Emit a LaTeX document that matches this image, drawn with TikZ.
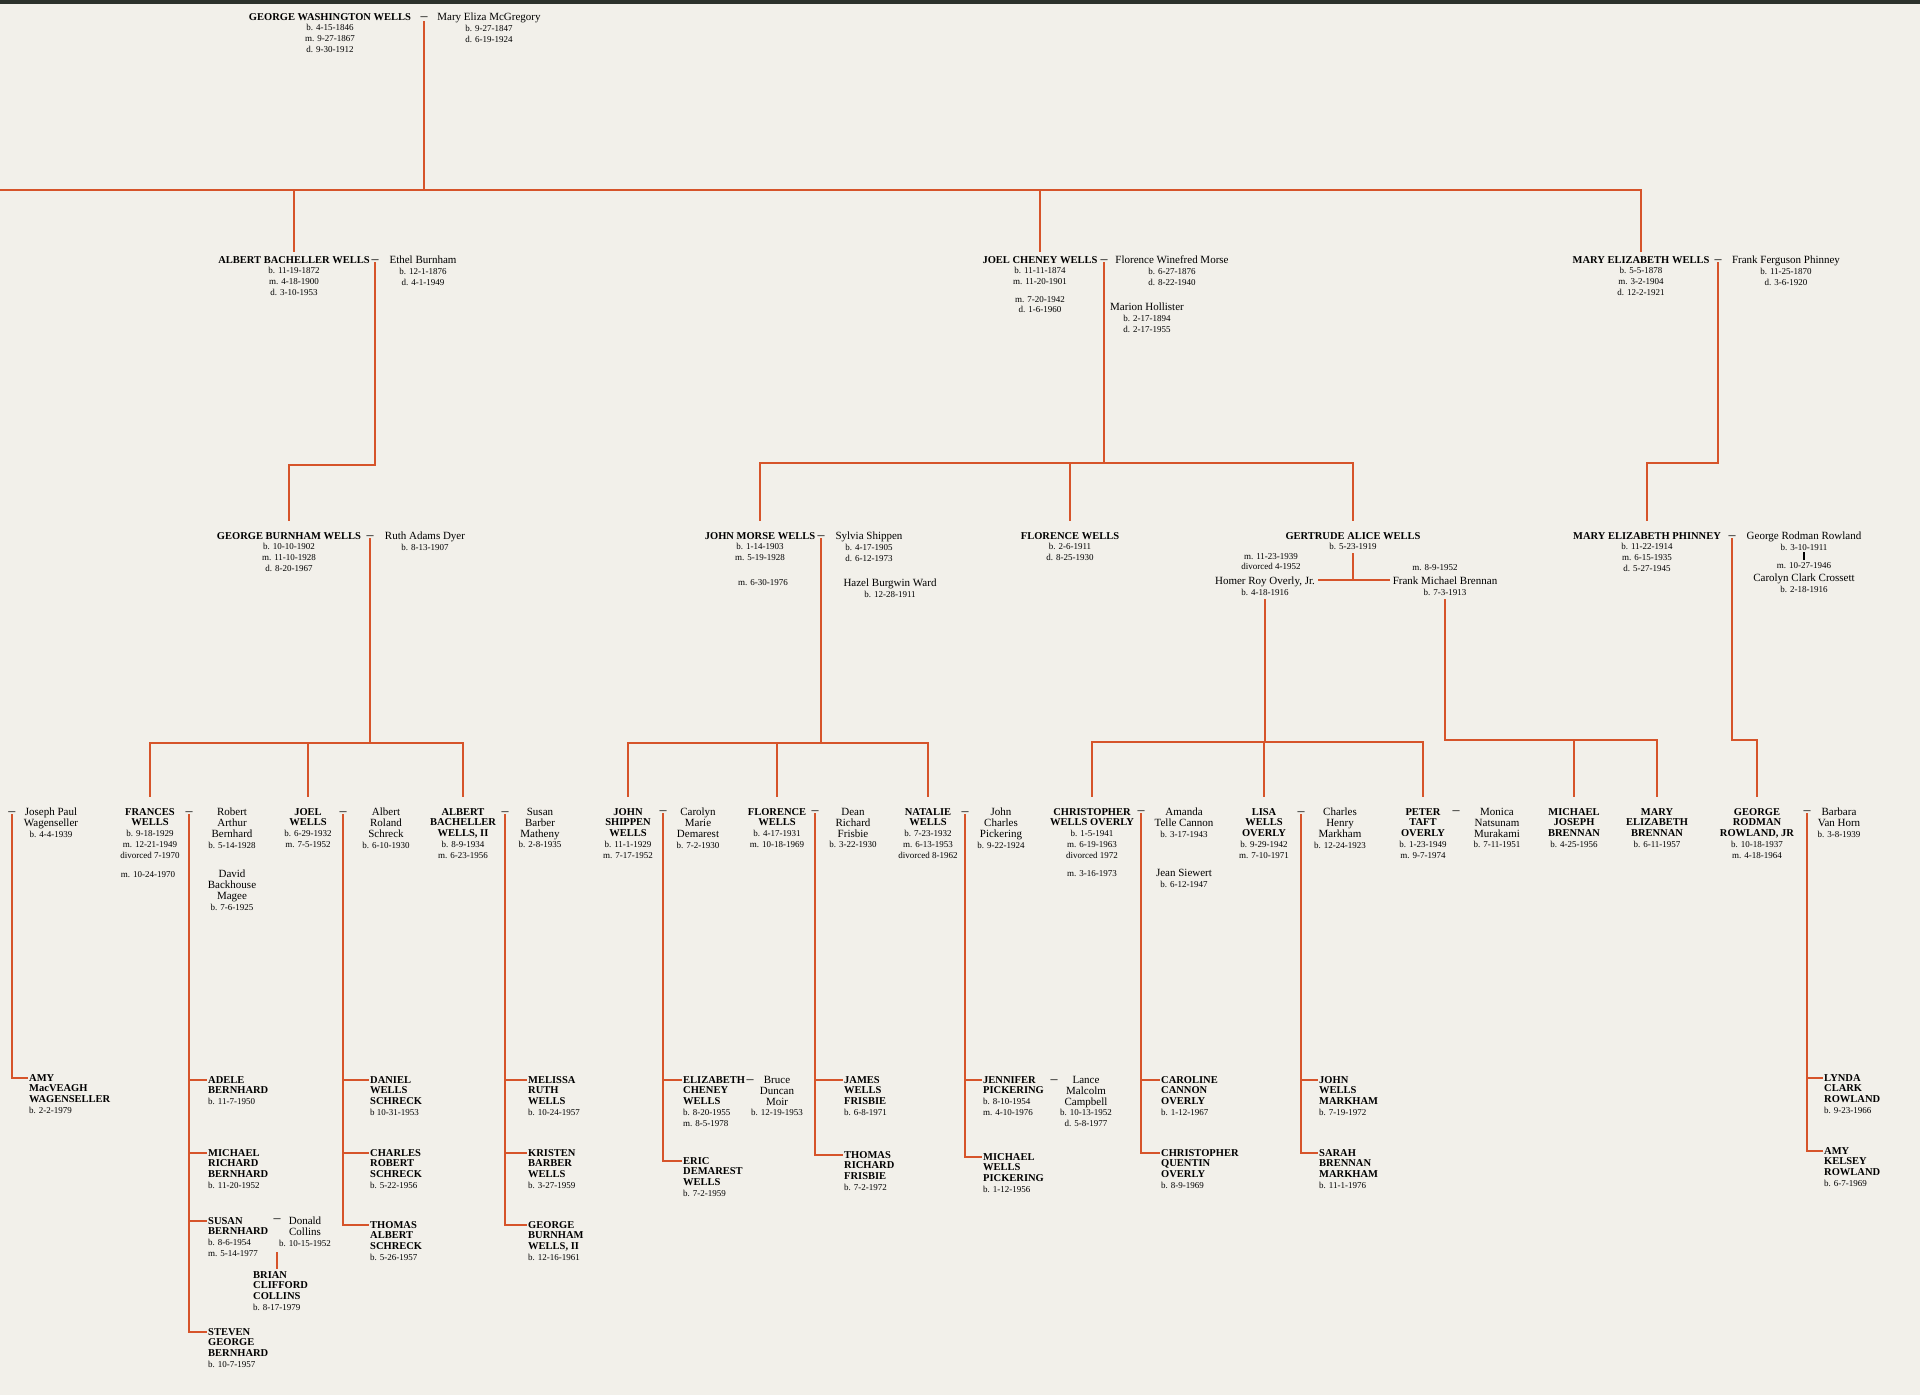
\documentclass[tikz,border=0pt]{standalone}
\usepackage{fontspec}
\setmainfont{Liberation Serif}
\usepackage{xcolor}
\usepackage{tikz}

\definecolor{paper}{RGB}{242,240,234}
\definecolor{treered}{RGB}{214,84,42}
\definecolor{scanedge}{RGB}{44,50,44}

\newcommand{\datefont}{\fontsize{9}{10.8}\selectfont}
\newcommand{\bname}[1]{{\fontsize{10.5}{10.8}\selectfont\bfseries #1}}
\newcommand{\rname}[1]{{\fontsize{11}{10.8}\selectfont #1}}

\begin{document}
\begin{tikzpicture}[
  x=1pt, y=-1pt,
  elder/.style={align=center, anchor=north, inner sep=0pt, font=\datefont},
  kid/.style={align=left, anchor=north west, inner sep=0pt, font=\datefont},
  joiner/.style={inner sep=0pt, anchor=base, font=\fontsize{14}{14}\selectfont},
  link/.style={draw=treered, line width=1.9pt, line cap=rect},
  tick/.style={draw=black, line width=1.4pt},
]
\useasboundingbox (0,0) rectangle (1920,1395);
\fill[paper] (0,0) rectangle (1920,1395);
\fill[scanedge] (0,0) rectangle (1920,4);

% first couple
\node[elder] (gww) at (330,13) {\bname{GEORGE WASHINGTON WELLS}\\b. 4-15-1846\\m. 9-27-1867\\d. 9-30-1912};
\node[joiner] (d-gww) at (424,20) {\textendash};
\node[elder] (mem) at (489,13) {\rname{Mary Eliza McGregory}\\b. 9-27-1847\\d. 6-19-1924};

% their children
\node[elder] (abw) at (294,256) {\bname{ALBERT BACHELLER WELLS}\\b. 11-19-1872\\m. 4-18-1900\\d. 3-10-1953};
\node[joiner] (d-abw) at (375,263) {\textendash};
\node[elder] (ebu) at (423,256) {\rname{Ethel Burnham}\\b. 12-1-1876\\d. 4-1-1949};
\node[elder] (jcw) at (1040,256) {\bname{JOEL CHENEY WELLS}\\b. 11-11-1874\\m. 11-20-1901};
\node[elder] (jcw-m2) at (1040,296) {m. 7-20-1942\\d. 1-6-1960};
\node[joiner] (d-jcw) at (1104,263) {\textendash};
\node[elder] (fwm) at (1172,256) {\rname{Florence Winefred Morse}\\b. 6-27-1876\\d. 8-22-1940};
\node[elder] (mho) at (1147,303) {\rname{Marion Hollister}\\b. 2-17-1894\\d. 2-17-1955};
\node[elder] (mew) at (1641,256) {\bname{MARY ELIZABETH WELLS}\\b. 5-5-1878\\m. 3-2-1904\\d. 12-2-1921};
\node[joiner] (d-mew) at (1718,263) {\textendash};
\node[elder] (ffp) at (1786,256) {\rname{Frank Ferguson Phinney}\\b. 11-25-1870\\d. 3-6-1920};

% grandchildren
\node[elder] (gbw) at (289,532) {\bname{GEORGE BURNHAM WELLS}\\b. 10-10-1902\\m. 11-10-1928\\d. 8-20-1967};
\node[joiner] (d-gbw) at (370,539) {\textendash};
\node[elder] (rad) at (425,532) {\rname{Ruth Adams Dyer}\\b. 8-13-1907};
\node[elder] (jmw) at (760,532) {\bname{JOHN MORSE WELLS}\\b. 1-14-1903\\m. 5-19-1928};
\node[elder] (jmw-m2) at (763,579) {m. 6-30-1976};
\node[joiner] (d-jmw) at (821,539) {\textendash};
\node[elder] (sys) at (869,532) {\rname{Sylvia Shippen}\\b. 4-17-1905\\d. 6-12-1973};
\node[elder] (hbw) at (890,579) {\rname{Hazel Burgwin Ward}\\b. 12-28-1911};
\node[elder] (flw) at (1070,532) {\bname{FLORENCE WELLS}\\b. 2-6-1911\\d. 8-25-1930};
\node[elder] (gaw) at (1353,532) {\bname{GERTRUDE ALICE WELLS}\\b. 5-23-1919};
\node[elder] (gaw-m1) at (1271,553) {m. 11-23-1939\\divorced 4-1952};
\node[elder] (hro) at (1265,577) {\rname{Homer Roy Overly, Jr.}\\b. 4-18-1916};
\node[elder] (gaw-m2) at (1435,564) {m. 8-9-1952};
\node[elder] (fmb) at (1445,577) {\rname{Frank Michael Brennan}\\b. 7-3-1913};
\node[elder] (mep) at (1647,532) {\bname{MARY ELIZABETH PHINNEY}\\b. 11-22-1914\\m. 6-15-1935\\d. 5-27-1945};
\node[joiner] (d-mep) at (1732,539) {\textendash};
\node[elder] (grr) at (1804,532) {\rname{George Rodman Rowland}\\b. 3-10-1911};
\node[elder] (grr-m2) at (1804,562) {m. 10-27-1946};
\node[elder] (ccc) at (1804,574) {\rname{Carolyn Clark Crossett}\\b. 2-18-1916};

% great-grandchildren
\node[joiner] (d-wag) at (12,815) {\textendash};
\node[elder] (jpw) at (51,808) {\rname{Joseph Paul}\\\rname{Wagenseller}\\b. 4-4-1939};
\node[elder] (frw) at (150,808) {\bname{FRANCES}\\\bname{WELLS}\\b. 9-18-1929\\m. 12-21-1949\\divorced 7-1970};
\node[elder] (frw-m2) at (148,871) {m. 10-24-1970};
\node[joiner] (d-frw) at (189,815) {\textendash};
\node[elder] (rab) at (232,808) {\rname{Robert}\\\rname{Arthur}\\\rname{Bernhard}\\b. 5-14-1928};
\node[elder] (dbm) at (232,870) {\rname{David}\\\rname{Backhouse}\\\rname{Magee}\\b. 7-6-1925};
\node[elder] (jw) at (308,808) {\bname{JOEL}\\\bname{WELLS}\\b. 6-29-1932\\m. 7-5-1952};
\node[joiner] (d-jw) at (343,815) {\textendash};
\node[elder] (ars) at (386,808) {\rname{Albert}\\\rname{Roland}\\\rname{Schreck}\\b. 6-10-1930};
\node[elder] (abw2) at (463,808) {\bname{ALBERT}\\\bname{BACHELLER}\\\bname{WELLS, II}\\b. 8-9-1934\\m. 6-23-1956};
\node[joiner] (d-abw2) at (505,815) {\textendash};
\node[elder] (sbm) at (540,808) {\rname{Susan}\\\rname{Barber}\\\rname{Matheny}\\b. 2-8-1935};
\node[elder] (jsw) at (628,808) {\bname{JOHN}\\\bname{SHIPPEN}\\\bname{WELLS}\\b. 11-1-1929\\m. 7-17-1952};
\node[joiner] (d-jsw) at (663,814) {\textendash};
\node[elder] (cmd) at (698,808) {\rname{Carolyn}\\\rname{Marie}\\\rname{Demarest}\\b. 7-2-1930};
\node[elder] (flw2) at (777,808) {\bname{FLORENCE}\\\bname{WELLS}\\b. 4-17-1931\\m. 10-18-1969};
\node[joiner] (d-flw2) at (815,814) {\textendash};
\node[elder] (drf) at (853,808) {\rname{Dean}\\\rname{Richard}\\\rname{Frisbie}\\b. 3-22-1930};
\node[elder] (naw) at (928,808) {\bname{NATALIE}\\\bname{WELLS}\\b. 7-23-1932\\m. 6-13-1953\\divorced 8-1962};
\node[joiner] (d-naw) at (965,815) {\textendash};
\node[elder] (jcp) at (1001,808) {\rname{John}\\\rname{Charles}\\\rname{Pickering}\\b. 9-22-1924};
\node[elder] (cwo) at (1092,808) {\bname{CHRISTOPHER}\\\bname{WELLS OVERLY}\\b. 1-5-1941\\m. 6-19-1963\\divorced 1972};
\node[elder] (cwo-m2) at (1092,870) {m. 3-16-1973};
\node[joiner] (d-cwo) at (1141,814) {\textendash};
\node[elder] (atc) at (1184,808) {\rname{Amanda}\\\rname{Telle Cannon}\\b. 3-17-1943};
\node[elder] (jsi) at (1184,869) {\rname{Jean Siewert}\\b. 6-12-1947};
\node[elder] (lwo) at (1264,808) {\bname{LISA}\\\bname{WELLS}\\\bname{OVERLY}\\b. 9-29-1942\\m. 7-10-1971};
\node[joiner] (d-lwo) at (1301,815) {\textendash};
\node[elder] (chm) at (1340,808) {\rname{Charles}\\\rname{Henry}\\\rname{Markham}\\b. 12-24-1923};
\node[elder] (pto) at (1423,808) {\bname{PETER}\\\bname{TAFT}\\\bname{OVERLY}\\b. 1-23-1949\\m. 9-7-1974};
\node[joiner] (d-pto) at (1456,814) {\textendash};
\node[elder] (mnm) at (1497,808) {\rname{Monica}\\\rname{Natsunam}\\\rname{Murakami}\\b. 7-11-1951};
\node[elder] (mjb) at (1574,808) {\bname{MICHAEL}\\\bname{JOSEPH}\\\bname{BRENNAN}\\b. 4-25-1956};
\node[elder] (mebr) at (1657,808) {\bname{MARY}\\\bname{ELIZABETH}\\\bname{BRENNAN}\\b. 6-11-1957};
\node[elder] (grj) at (1757,808) {\bname{GEORGE}\\\bname{RODMAN}\\\bname{ROWLAND, JR}\\b. 10-18-1937\\m. 4-18-1964};
\node[joiner] (d-grj) at (1807,814) {\textendash};
\node[elder] (bvh) at (1839,808) {\rname{Barbara}\\\rname{Van Horn}\\b. 3-8-1939};

% youngest generation
\node[kid] (amw) at (29,1074) {\bname{AMY}\\\bname{MacVEAGH}\\\bname{WAGENSELLER}\\b. 2-2-1979};
\node[kid] (adb) at (208,1076) {\bname{ADELE}\\\bname{BERNHARD}\\b. 11-7-1950};
\node[kid] (mrb) at (208,1149) {\bname{MICHAEL}\\\bname{RICHARD}\\\bname{BERNHARD}\\b. 11-20-1952};
\node[kid] (sbe) at (208,1217) {\bname{SUSAN}\\\bname{BERNHARD}\\b. 8-6-1954\\m. 5-14-1977};
\node[joiner] (d-sbe) at (277,1222) {\textendash};
\node[elder] (dco) at (305,1217) {\rname{Donald}\\\rname{Collins}\\b. 10-15-1952};
\node[kid] (bcc) at (253,1271) {\bname{BRIAN}\\\bname{CLIFFORD}\\\bname{COLLINS}\\b. 8-17-1979};
\node[kid] (sgb) at (208,1328) {\bname{STEVEN}\\\bname{GEORGE}\\\bname{BERNHARD}\\b. 10-7-1957};
\node[kid] (dws) at (370,1076) {\bname{DANIEL}\\\bname{WELLS}\\\bname{SCHRECK}\\b 10-31-1953};
\node[kid] (crs) at (370,1149) {\bname{CHARLES}\\\bname{ROBERT}\\\bname{SCHRECK}\\b. 5-22-1956};
\node[kid] (tas) at (370,1221) {\bname{THOMAS}\\\bname{ALBERT}\\\bname{SCHRECK}\\b. 5-26-1957};
\node[kid] (mrw) at (528,1076) {\bname{MELISSA}\\\bname{RUTH}\\\bname{WELLS}\\b. 10-24-1957};
\node[kid] (kbw) at (528,1149) {\bname{KRISTEN}\\\bname{BARBER}\\\bname{WELLS}\\b. 3-27-1959};
\node[kid] (gbw2) at (528,1221) {\bname{GEORGE}\\\bname{BURNHAM}\\\bname{WELLS, II}\\b. 12-16-1961};
\node[kid] (ecw) at (683,1076) {\bname{ELIZABETH}\\\bname{CHENEY}\\\bname{WELLS}\\b. 8-20-1955\\m. 8-5-1978};
\node[joiner] (d-ecw) at (750,1083) {\textendash};
\node[elder] (bdm) at (777,1076) {\rname{Bruce}\\\rname{Duncan}\\\rname{Moir}\\b. 12-19-1953};
\node[kid] (edw) at (683,1157) {\bname{ERIC}\\\bname{DEMAREST}\\\bname{WELLS}\\b. 7-2-1959};
\node[kid] (jwf) at (844,1076) {\bname{JAMES}\\\bname{WELLS}\\\bname{FRISBIE}\\b. 6-8-1971};
\node[kid] (trf) at (844,1151) {\bname{THOMAS}\\\bname{RICHARD}\\\bname{FRISBIE}\\b. 7-2-1972};
\node[kid] (jpi) at (983,1076) {\bname{JENNIFER}\\\bname{PICKERING}\\b. 8-10-1954\\m. 4-10-1976};
\node[joiner] (d-jpi) at (1054,1083) {\textendash};
\node[elder] (lmc) at (1086,1076) {\rname{Lance}\\\rname{Malcolm}\\\rname{Campbell}\\b. 10-13-1952\\d. 5-8-1977};
\node[kid] (mwp) at (983,1153) {\bname{MICHAEL}\\\bname{WELLS}\\\bname{PICKERING}\\b. 1-12-1956};
\node[kid] (cco) at (1161,1076) {\bname{CAROLINE}\\\bname{CANNON}\\\bname{OVERLY}\\b. 1-12-1967};
\node[kid] (cqo) at (1161,1149) {\bname{CHRISTOPHER}\\\bname{QUENTIN}\\\bname{OVERLY}\\b. 8-9-1969};
\node[kid] (jwm) at (1319,1076) {\bname{JOHN}\\\bname{WELLS}\\\bname{MARKHAM}\\b. 7-19-1972};
\node[kid] (sbm2) at (1319,1149) {\bname{SARAH}\\\bname{BRENNAN}\\\bname{MARKHAM}\\b. 11-1-1976};
\node[kid] (lcr) at (1824,1074) {\bname{LYNDA}\\\bname{CLARK}\\\bname{ROWLAND}\\b. 9-23-1966};
\node[kid] (akr) at (1824,1147) {\bname{AMY}\\\bname{KELSEY}\\\bname{ROWLAND}\\b. 6-7-1969};

% junction levels
\coordinate (bar0) at (-5,190);
\coordinate (jA) at (0,465);
\coordinate (jJ) at (0,463);
\coordinate (jM) at (0,463);
\coordinate (jG) at (0,743);
\coordinate (jS) at (0,743);
\coordinate (tG) at (0,580);
\coordinate (jH) at (0,742);
\coordinate (jF) at (0,740);
\coordinate (jP) at (0,740);

% connectors
\draw[link] ([yshift=-2pt]d-gww.south) -- (d-gww.south |- bar0);
\draw[link] (bar0) -- (mew.north |- bar0);
\foreach \k in {abw,jcw,mew}
  \draw[link] (\k.north |- bar0) -- ([yshift=5pt]\k.north);

\draw[link] (d-abw.south) |- (gbw.north |- jA) -- ([yshift=12pt]gbw.north);
\draw[link] (d-jcw.south) -- (d-jcw.south |- jJ);
\draw[link] (jmw.north |- jJ) -- (gaw.north |- jJ);
\foreach \k in {jmw,flw,gaw}
  \draw[link] (\k.north |- jJ) -- ([yshift=12pt]\k.north);
\draw[link] (d-mew.south) |- (mep.north |- jM) -- ([yshift=12pt]mep.north);

\draw[link] (d-gbw.south) -- (d-gbw.south |- jG);
\draw[link] (frw.north |- jG) -- (abw2.north |- jG);
\foreach \k in {frw,jw,abw2}
  \draw[link] (\k.north |- jG) -- ([yshift=12pt]\k.north);
\draw[link] (d-jmw.south) -- (d-jmw.south |- jS);
\draw[link] (jsw.north |- jS) -- (naw.north |- jS);
\foreach \k in {jsw,flw2,naw}
  \draw[link] (\k.north |- jS) -- ([yshift=12pt]\k.north);
\draw[link] ([yshift=-4pt]gaw.south) -- (gaw.south |- tG);
\draw[link] ([xshift=4pt]hro.north east |- tG) -- ([xshift=-4pt]fmb.north west |- tG);
\draw[link] ([yshift=-4pt]hro.south) -- (hro.south |- jH);
\draw[link] (cwo.north |- jH) -- (pto.north |- jH);
\foreach \k in {cwo,lwo,pto}
  \draw[link] (\k.north |- jH) -- ([yshift=12pt]\k.north);
\draw[link] ([yshift=-4pt]fmb.south) |- (mebr.north |- jF) -- ([yshift=12pt]mebr.north);
\draw[link] (mjb.north |- jF) -- ([yshift=12pt]mjb.north);
\draw[link] (d-mep.south) |- (grj.north |- jP) -- ([yshift=12pt]grj.north);
\draw[tick, shorten <=1pt, shorten >=2pt] (grr.south) -- (grr-m2.north);

\draw[link] (d-wag.south) |- ([xshift=-2pt,yshift=-4pt]amw.north west);
\foreach \k in {adb,mrb,sbe,sgb}
  \draw[link] (d-frw.south) |- ([xshift=-2pt,yshift=-4pt]\k.north west);
\draw[link, shorten <=6pt, shorten >=3pt] (d-sbe.center |- dco.south) -- (d-sbe.center |- bcc.north);
\foreach \k in {dws,crs,tas}
  \draw[link] (d-jw.south) |- ([xshift=-2pt,yshift=-4pt]\k.north west);
\foreach \k in {mrw,kbw,gbw2}
  \draw[link] (d-abw2.south) |- ([xshift=-2pt,yshift=-4pt]\k.north west);
\foreach \k in {ecw,edw}
  \draw[link] (d-jsw.south) |- ([xshift=-2pt,yshift=-4pt]\k.north west);
\foreach \k in {jwf,trf}
  \draw[link] (d-flw2.south) |- ([xshift=-2pt,yshift=-4pt]\k.north west);
\foreach \k in {jpi,mwp}
  \draw[link] (d-naw.south) |- ([xshift=-2pt,yshift=-4pt]\k.north west);
\foreach \k in {cco,cqo}
  \draw[link] (d-cwo.south) |- ([xshift=-2pt,yshift=-4pt]\k.north west);
\foreach \k in {jwm,sbm2}
  \draw[link] (d-lwo.south) |- ([xshift=-2pt,yshift=-4pt]\k.north west);
\foreach \k in {lcr,akr}
  \draw[link] (d-grj.south) |- ([xshift=-2pt,yshift=-4pt]\k.north west);
\end{tikzpicture}
\end{document}
